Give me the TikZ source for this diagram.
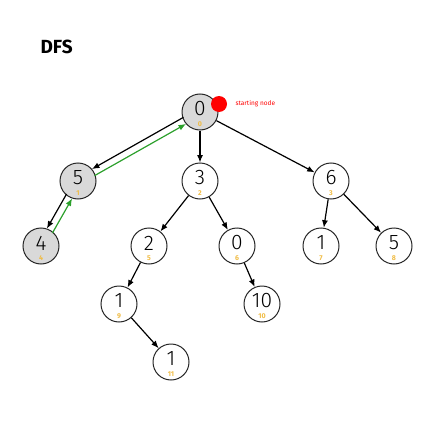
\documentclass[tikz,border=0pt]{standalone}
\usepackage{fontspec}
\setmainfont{Fira Sans}
\newfontfamily\valfont{Fira Sans Light}
\usepackage{tikz}
\usetikzlibrary{positioning, calc, arrows.meta}

\definecolor{nodegray}{HTML}{D9D9D9}
\definecolor{idxgold}{HTML}{F0BC45}
\definecolor{pathgreen}{HTML}{2CA02C}

\tikzset{
    vertex/.style={circle, draw=black!85, line width=1pt, minimum size=36pt, inner sep=0pt},
    visited/.style={vertex, fill=nodegray},
    val/.style={font=\fontsize{21}{22}\valfont, inner sep=0pt},
    idx/.style={text=idxgold, font=\fontsize{7}{7}\selectfont\bfseries, inner sep=0pt},
    edge/.style={-{Latex[length=7.5pt,width=6pt]}, line width=1.2pt, black},
    back/.style={-{Latex[length=7.5pt,width=6pt]}, line width=1.2pt, pathgreen},
}

\begin{document}
\begin{tikzpicture}[x=1pt, y=-1pt]
    \useasboundingbox (0,0) rectangle (425,425);

    % Title
    \node[font=\fontsize{19}{20}\selectfont\bfseries, anchor=west] (title) at (37,47) {DFS};

    % Vertices
    \node[visited] (n0) at (200,112) {};
    \node[visited] (n5) at (78,181) {};
    \node[vertex]  (n3) at (200,181) {};
    \node[vertex]  (n6) at (331,181) {};
    \node[visited] (n4) at (41,246) {};
    \node[vertex]  (n2) at (149,246) {};
    \node[vertex]  (m0) at (237,246) {};
    \node[vertex]  (a1) at (321,246) {};
    \node[vertex]  (b5) at (394,246) {};
    \node[vertex]  (c1) at (119,304) {};
    \node[vertex]  (t10) at (262,304) {};
    \node[vertex]  (d1) at (171,362) {};

    % Values
    \node[val] (v0) at ([yshift=3pt]n0) {0};
    \node[val] (v5) at ([yshift=3pt]n5) {5};
    \node[val] (v3) at ([yshift=3pt]n3) {3};
    \node[val] (v6) at ([yshift=3pt]n6) {6};
    \node[val] (v4) at ([yshift=3pt]n4) {4};
    \node[val] (v2) at ([yshift=3pt]n2) {2};
    \node[val] (vm0) at ([yshift=3pt]m0) {0};
    \node[val] (va1) at ([yshift=3pt]a1) {1};
    \node[val] (vb5) at ([yshift=3pt]b5) {5};
    \node[val] (vc1) at ([yshift=3pt]c1) {1};
    \node[val] (vt10) at ([yshift=3pt]t10) {10};
    \node[val] (vd1) at ([yshift=3pt]d1) {1};

    % Visit order
    \node[idx] (i0) at ([yshift=-12.5pt]n0) {0};
    \node[idx] (i1) at ([yshift=-12.5pt]n5) {1};
    \node[idx] (i2) at ([yshift=-12.5pt]n3) {2};
    \node[idx] (i3) at ([yshift=-12.5pt]n6) {3};
    \node[idx] (i4) at ([yshift=-12.5pt]n4) {4};
    \node[idx] (i5) at ([yshift=-12.5pt]n2) {5};
    \node[idx] (i6) at ([yshift=-12.5pt]m0) {6};
    \node[idx] (i7) at ([yshift=-12.5pt]a1) {7};
    \node[idx] (i8) at ([yshift=-12.5pt]b5) {8};
    \node[idx] (i9) at ([yshift=-12.5pt]c1) {9};
    \node[idx] (i10) at ([yshift=-12.5pt]t10) {10};
    \node[idx] (i11) at ([yshift=-12.5pt]d1) {11};

    % Start marker
    \fill[red] (219,104) circle (8);
    \node[red, font=\fontsize{6.5}{7}\selectfont, anchor=west] (start) at (232,104) {starting node};

    % Tree edges
    \draw[edge] (n0) -- (n3);
    \draw[edge] (n0) -- (n6);
    \draw[edge] (n3) -- (n2);
    \draw[edge] (n3) -- (m0);
    \draw[edge] (n6) -- (a1);
    \draw[edge] (n6) -- (b5);
    \draw[edge] (n2) -- (c1);
    \draw[edge] (m0) -- (t10);
    \draw[edge] (c1) -- (d1);

    % Walk down and back up
    \draw[edge, shorten <=17pt, shorten >=18pt] ($(n0)!3.5pt!-90:(n5)$) -- ($(n5)!3.5pt!90:(n0)$);
    \draw[back, shorten <=17pt, shorten >=18pt] ($(n5)!3.5pt!-90:(n0)$) -- ($(n0)!3.5pt!90:(n5)$);
    \draw[edge, shorten <=17pt, shorten >=18pt] ($(n5)!3.5pt!-90:(n4)$) -- ($(n4)!3.5pt!90:(n5)$);
    \draw[back, shorten <=17pt, shorten >=18pt] ($(n4)!3.5pt!-90:(n5)$) -- ($(n5)!3.5pt!90:(n4)$);

\end{tikzpicture}
\end{document}
